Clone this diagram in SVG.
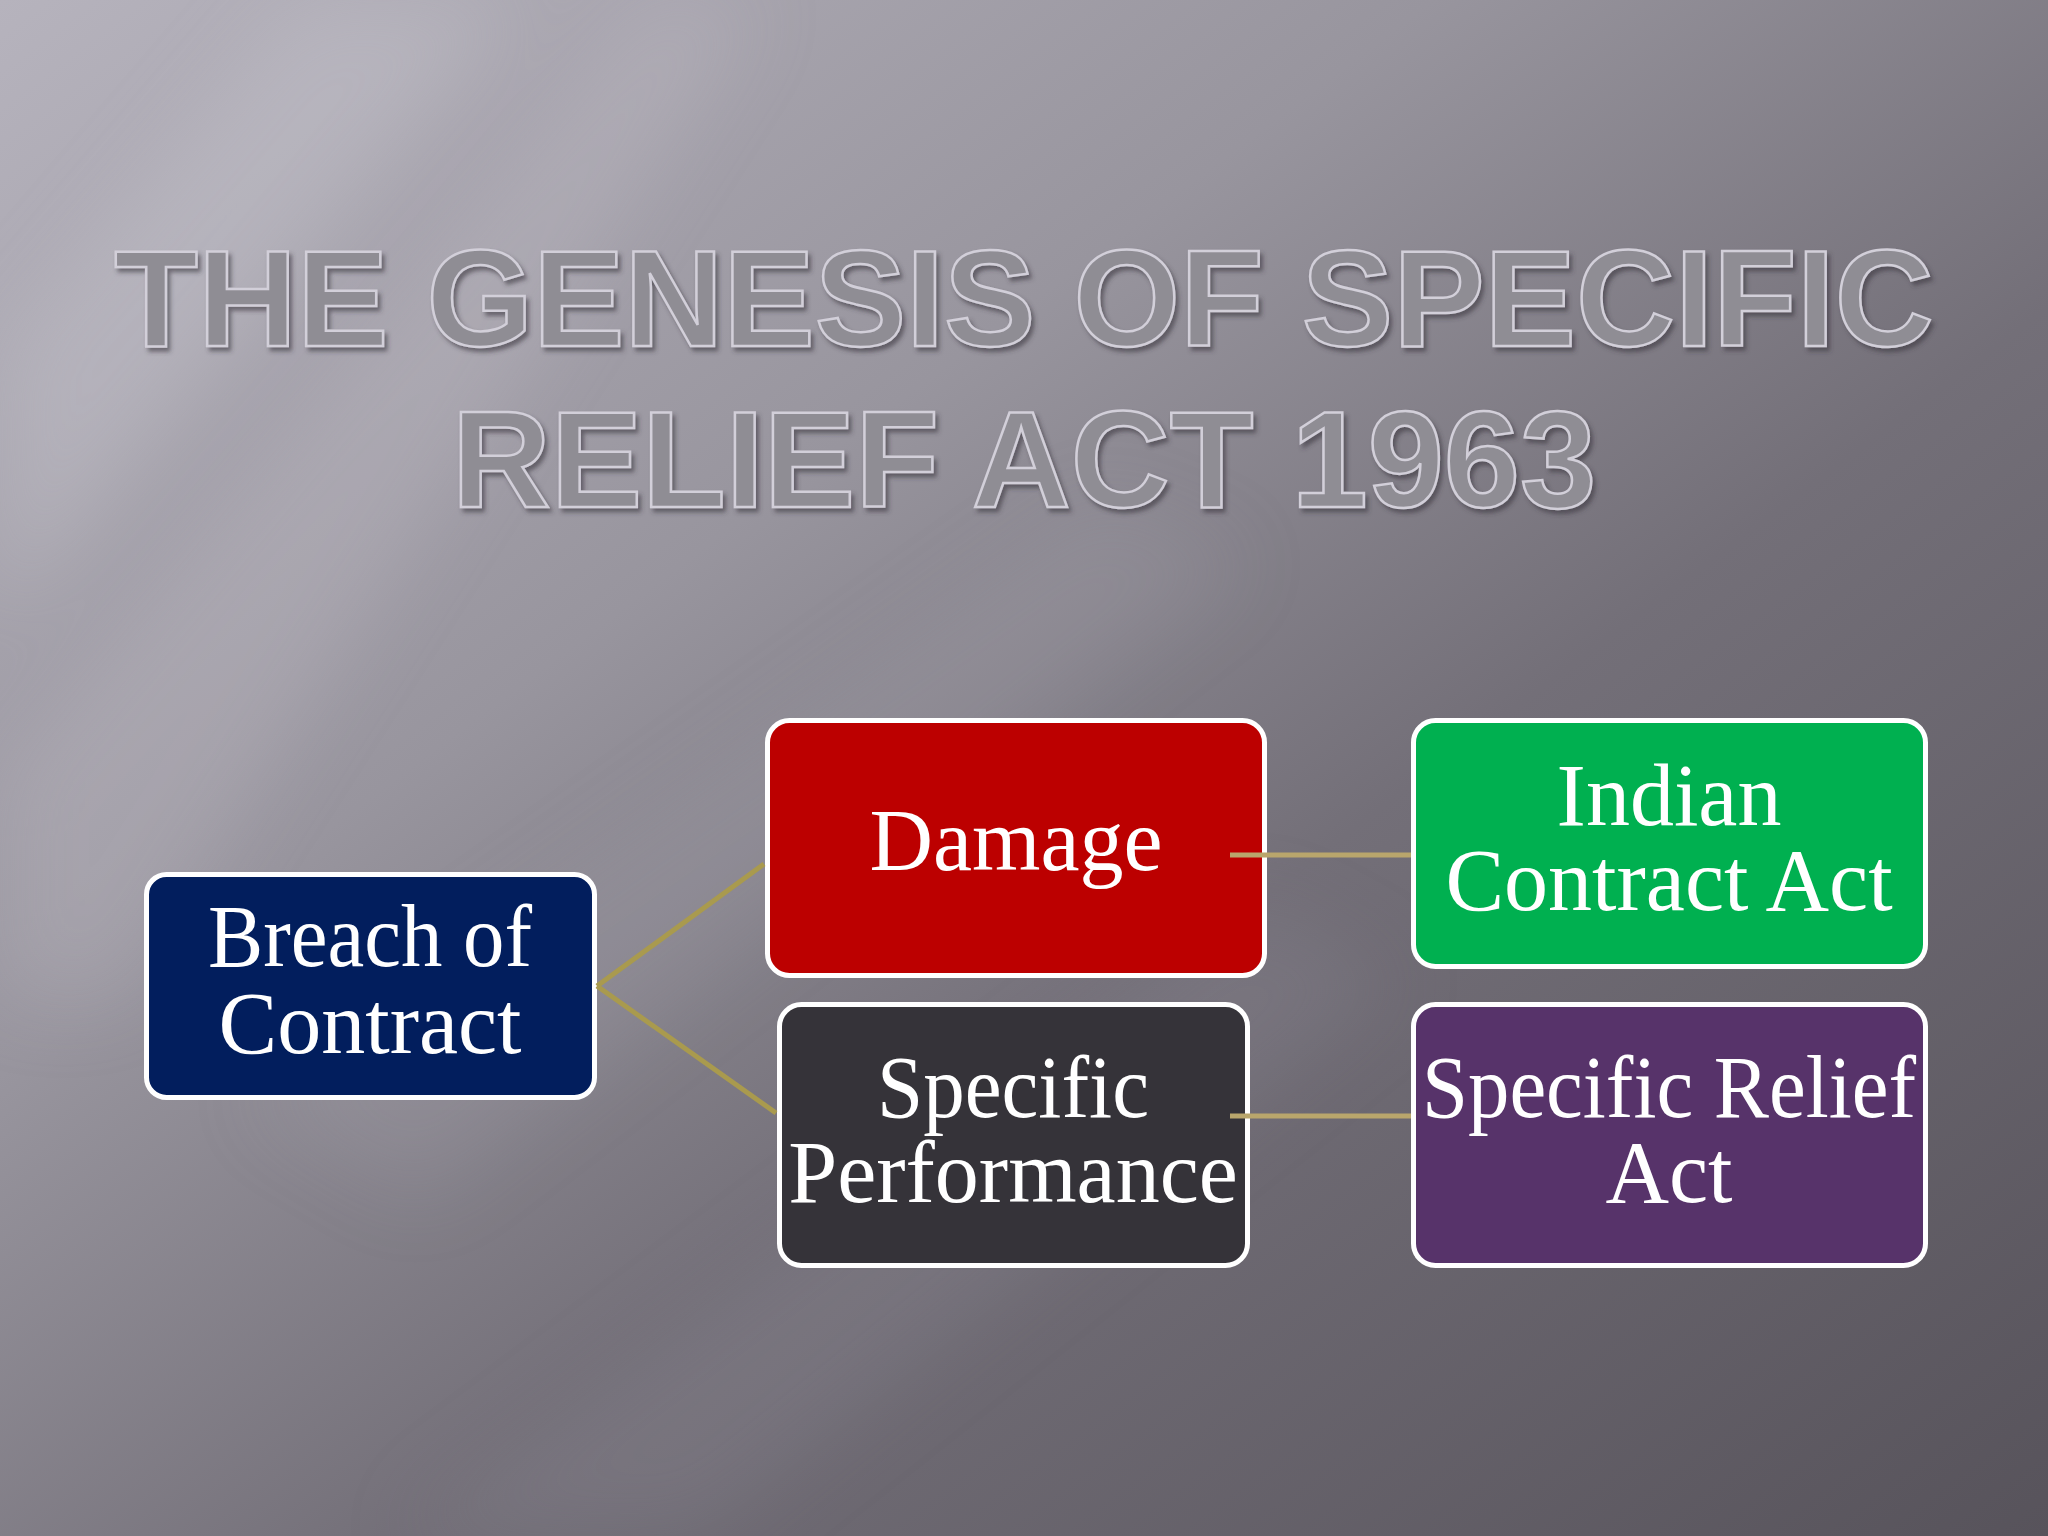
<svg xmlns="http://www.w3.org/2000/svg" width="2048" height="1536" viewBox="0 0 2048 1536">
<defs>
<linearGradient id="bg" x1="0" y1="0" x2="1" y2="1">
<stop offset="0" stop-color="#b6b3bd"/>
<stop offset="0.35" stop-color="#98959e"/>
<stop offset="0.6" stop-color="#736f78"/>
<stop offset="1" stop-color="#57535b"/>
</linearGradient>
<filter id="blur" x="-20%" y="-20%" width="140%" height="140%"><feGaussianBlur stdDeviation="40"/></filter>
<filter id="shadow" x="-5%" y="-10%" width="110%" height="130%">
<feDropShadow dx="3" dy="4" stdDeviation="2" flood-color="#3a3840" flood-opacity="0.6"/>
</filter>
<style>
.title{font-family:"Liberation Sans",Arial,sans-serif;font-weight:bold;font-size:137px;fill:#8f8d94;stroke:#d2cfd9;stroke-width:2.5;text-anchor:middle}
.box{stroke:#ffffff;stroke-width:5}
.lbl{font-family:"Liberation Serif","Times New Roman",serif;font-size:88px;fill:#ffffff;text-anchor:middle}
.conn{fill:none;stroke-width:5}
</style>
</defs>
<rect width="2048" height="1536" fill="url(#bg)"/>
<g filter="url(#blur)" opacity="0.5">
<polygon points="0,350 300,0 520,0 0,620" fill="#d6d3dc" opacity="0.5"/>
<polygon points="0,780 650,0 760,0 120,1000 0,1000" fill="#cfcbd5" opacity="0.4"/>
<polygon points="250,1100 1100,500 1250,560 420,1200" fill="#b0acb6" opacity="0.35"/>
<polygon points="400,1536 1250,900 1400,980 700,1536" fill="#8f8b95" opacity="0.5"/>
</g>
<g id="title" filter="url(#shadow)">
<text class="title" x="1024" y="346">THE GENESIS OF SPECIFIC</text>
<text class="title" x="1024" y="507">RELIEF ACT 1963</text>
</g>
<g id="node-breach">
<rect class="box" x="146.5" y="874.5" width="448" height="223" rx="20" fill="#021e5d"/>
<text class="lbl" x="370" y="966" textLength="324" lengthAdjust="spacingAndGlyphs">Breach of</text>
<text class="lbl" x="370" y="1053">Contract</text>
</g>
<g id="node-damage">
<rect class="box" x="767.5" y="720.5" width="497" height="255" rx="22" fill="#bc0000"/>
<text class="lbl" x="1016" y="870">Damage</text>
</g>
<g id="node-specific-performance">
<rect class="box" x="779.5" y="1004.5" width="468" height="261" rx="22" fill="#353339"/>
<text class="lbl" x="1013" y="1117" textLength="272" lengthAdjust="spacingAndGlyphs">Specific</text>
<text class="lbl" x="1013" y="1202">Performance</text>
</g>
<g id="node-indian-contract-act">
<rect class="box" x="1413.5" y="720.5" width="512" height="246" rx="22" fill="#00b050"/>
<text class="lbl" x="1669" y="825">Indian</text>
<text class="lbl" x="1669" y="910">Contract Act</text>
</g>
<g id="node-specific-relief-act">
<rect class="box" x="1413.5" y="1004.5" width="512" height="261" rx="22" fill="#57336a"/>
<text class="lbl" x="1669" y="1117" textLength="494" lengthAdjust="spacingAndGlyphs">Specific Relief</text>
<text class="lbl" x="1669" y="1202">Act</text>
</g>
<g id="connectors">
<path class="conn" stroke="#a99a4e" d="M597,986 L764,864"/>
<path class="conn" stroke="#a99a4e" d="M597,986 L776,1113"/>
<path class="conn" stroke="#b9a66c" d="M1230,855 L1411,855"/>
<path class="conn" stroke="#b9a66c" d="M1230,1116 L1411,1116"/>
</g>
</svg>
